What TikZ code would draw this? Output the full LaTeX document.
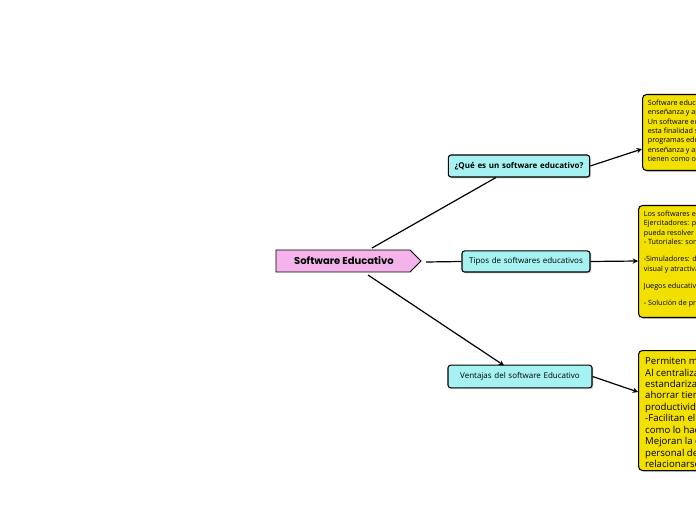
\documentclass[tikz,border=0pt]{standalone}
\usepackage{fontspec}
\setmainfont{Open Sans}
\newfontfamily\popfont{Poppins}
\usetikzlibrary{arrows.meta,shadows}
\definecolor{tcyan}{HTML}{A6F2F2}
\definecolor{nyel}{HTML}{F2E000}
\definecolor{cpink}{HTML}{F5B3EC}
\begin{document}
\begin{tikzpicture}[x=0.75pt,y=-0.75pt,
  topic/.style={draw=black,line width=0.8pt,fill=tcyan,rounded corners=2pt,drop shadow={opacity=0.4,shadow xshift=1pt,shadow yshift=-1pt},font=\fontsize{6}{8}\selectfont,inner sep=0pt},
  note/.style={draw=black,line width=0.8pt,fill=nyel,rounded corners=3pt,drop shadow={opacity=0.4,shadow xshift=1pt,shadow yshift=-1pt},align=left},
  link/.style={line width=0.9pt},
  arr/.style={line width=0.9pt,-{Stealth[length=4pt,width=4pt]}}]
\useasboundingbox (0,0) rectangle (696,520);
\clip (0,0) rectangle (696,520);
% central
\draw[fill=cpink,line width=0.6pt] (276,250) -- (410,250) -- (421,261) -- (410,272) -- (276,272) -- cycle;
\node (c) at (344,261) {\popfont\bfseries\fontsize{7.5}{9}\selectfont Software Educativo};
\coordinate (c1) at (372,248);
\coordinate (c2) at (426,262);
\coordinate (c3) at (368,275);
% topics
\node[topic,text width=106pt,align=center,minimum height=16.5pt] (t1) at (519,166) {\bfseries ¿Qué es un software educativo?};
\node[topic,text width=96pt,align=center,minimum height=15.8pt] (t2) at (526,261.5) {Tipos de softwares educativos};
\node[topic,text width=108pt,align=center,minimum height=17pt] (t3) at (520,376.5) {Ventajas del software Educativo};
% notes
\node[note,anchor=north west,inner sep=4pt,font=\fontsize{5.4}{7}\selectfont] (n1) at (642,94) {\parbox[t][49pt][t]{160pt}{\raggedright Software educativo para la enseñanza\\enseñanza y aprendizaje del alumno.\\Un software educativo con esta\\esta finalidad son todos los programas\\programas educativos de la\\enseñanza y aprendizaje que\\tienen como objetivo principal}};
\node[note,anchor=north west,inner sep=4pt,font=\fontsize{5.4}{7}\selectfont] (n2) at (638,205) {\parbox[t][76pt][t]{160pt}{\raggedright Los softwares educativos son:\\Ejercitadores: para que el alumno\\pueda resolver ejercicios.\\- Tutoriales: son guías de aprendizaje\\[6pt]-Simuladores: de forma más\\visual y atractiva para el alumno\\[6pt]Juegos educativos\\[6pt]- Solución de problemas}};
\node[note,anchor=north west,inner sep=5pt,font=\fontsize{7.2}{8.6}\selectfont] (n3) at (638,350) {\parbox[t][80pt][t]{160pt}{\raggedright Permiten mejorar la educación\\Al centralizar y unificar\\estandarizar los procesos\\ahorrar tiempo y dinero\\productividad escolar\\-Facilitan el trabajo escolar\\como lo hacen los docentes\\Mejoran la comunicación\\personal de la institución\\relacionarse con otros}};
% connectors
\draw[link] (c1) -- (496,177.5);
\draw[link] (c2) -- (t2.west);
\draw[arr] (c3) -- (504,365.5);
\draw[arr] (t1.east) -- (642,149);
\draw[arr] (t2.east) -- (638,261);
\draw[arr] (t3.east) -- (638,392);
\end{tikzpicture}
\end{document}
